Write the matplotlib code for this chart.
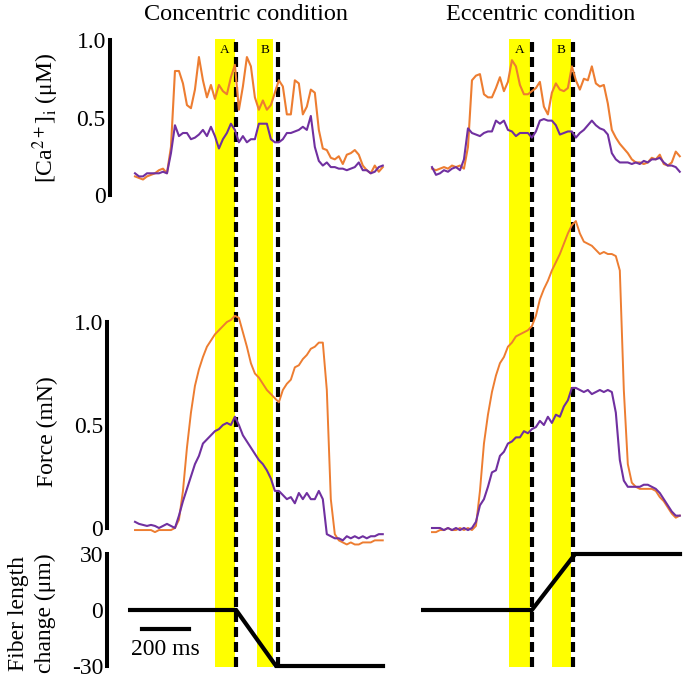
import numpy as np
import matplotlib
matplotlib.use("Agg")
import matplotlib.pyplot as plt

plt.rcParams['font.family'] = ['Liberation Serif', 'DejaVu Serif']
plt.rcParams['mathtext.fontset'] = 'stix'

# sampled traces, one value every 17 ms
sample_ms = 17.0

ca_conc_orange = [0.12, 0.11, 0.10, 0.12, 0.13, 0.14, 0.16, 0.17, 0.14, 0.31,
                  0.80, 0.80, 0.72, 0.58, 0.56, 0.68, 0.89, 0.74, 0.63, 0.71,
                  0.62, 0.71, 0.67, 0.65, 0.76, 0.84, 0.55, 0.70, 0.89, 0.83,
                  0.63, 0.55, 0.61, 0.55, 0.58, 0.66, 0.74, 0.70, 0.52, 0.52,
                  0.74, 0.72, 0.52, 0.57, 0.68, 0.66, 0.42, 0.30, 0.29, 0.24,
                  0.23, 0.25, 0.20, 0.26, 0.27, 0.29, 0.26, 0.19, 0.16, 0.14,
                  0.19, 0.15, 0.18]
ca_conc_purple = [0.14, 0.12, 0.12, 0.14, 0.14, 0.14, 0.14, 0.15, 0.14, 0.27,
                  0.45, 0.38, 0.40, 0.40, 0.36, 0.37, 0.39, 0.42, 0.38, 0.44,
                  0.38, 0.30, 0.36, 0.40, 0.46, 0.42, 0.34, 0.38, 0.34, 0.36,
                  0.36, 0.46, 0.46, 0.46, 0.36, 0.34, 0.34, 0.36, 0.40, 0.40,
                  0.41, 0.42, 0.44, 0.42, 0.51, 0.31, 0.22, 0.19, 0.21, 0.18,
                  0.18, 0.17, 0.17, 0.16, 0.17, 0.18, 0.21, 0.16, 0.16, 0.14,
                  0.15, 0.18, 0.19]
ca_ecc_orange = [0.17, 0.16, 0.17, 0.18, 0.17, 0.19, 0.18, 0.19, 0.17, 0.31,
                 0.74, 0.77, 0.78, 0.65, 0.63, 0.63, 0.69, 0.76, 0.67, 0.73,
                 0.87, 0.83, 0.71, 0.65, 0.65, 0.67, 0.69, 0.73, 0.57, 0.52,
                 0.66, 0.72, 0.68, 0.67, 0.69, 0.83, 0.74, 0.68, 0.75, 0.74,
                 0.83, 0.72, 0.70, 0.71, 0.59, 0.42, 0.37, 0.33, 0.30, 0.27,
                 0.23, 0.21, 0.21, 0.20, 0.21, 0.24, 0.23, 0.26, 0.20, 0.19,
                 0.21, 0.28, 0.25]
ca_ecc_purple = [0.18, 0.13, 0.14, 0.16, 0.15, 0.17, 0.18, 0.16, 0.23, 0.43,
                 0.40, 0.39, 0.38, 0.40, 0.41, 0.41, 0.48, 0.46, 0.48, 0.42,
                 0.41, 0.38, 0.40, 0.40, 0.40, 0.37, 0.41, 0.48, 0.49, 0.48,
                 0.48, 0.45, 0.39, 0.40, 0.41, 0.41, 0.37, 0.40, 0.42, 0.45,
                 0.48, 0.45, 0.43, 0.42, 0.39, 0.27, 0.23, 0.21, 0.21, 0.21,
                 0.20, 0.21, 0.20, 0.22, 0.21, 0.23, 0.23, 0.24, 0.21, 0.19,
                 0.19, 0.18, 0.15]

force_conc_orange = [-0.01, -0.01, -0.01, -0.01, -0.01, -0.02, -0.01, -0.01, -0.01, -0.01,
                     0.00, 0.04, 0.18, 0.39, 0.56, 0.69, 0.77, 0.83, 0.88, 0.91,
                     0.94, 0.96, 0.98, 1.00, 1.01, 1.03, 1.02, 0.95, 0.88, 0.80,
                     0.75, 0.73, 0.70, 0.67, 0.65, 0.63, 0.61, 0.67, 0.70, 0.72,
                     0.78, 0.79, 0.82, 0.84, 0.87, 0.88, 0.90, 0.90, 0.67, 0.14,
                     -0.03, -0.06, -0.07, -0.08, -0.07, -0.08, -0.08, -0.07, -0.07, -0.07,
                     -0.06, -0.06, -0.06]
force_conc_purple = [0.03, 0.02, 0.015, 0.01, 0.015, 0.01, 0.00, 0.01, 0.02, 0.01,
                     0.00, 0.06, 0.13, 0.19, 0.25, 0.31, 0.35, 0.41, 0.43, 0.45,
                     0.47, 0.48, 0.50, 0.51, 0.50, 0.54, 0.50, 0.45, 0.42, 0.39,
                     0.36, 0.33, 0.31, 0.28, 0.24, 0.18, 0.18, 0.16, 0.14, 0.15,
                     0.12, 0.17, 0.14, 0.17, 0.14, 0.14, 0.18, 0.14, -0.03, -0.04,
                     -0.05, -0.05, -0.06, -0.04, -0.05, -0.04, -0.05, -0.04, -0.05, -0.04,
                     -0.04, -0.03, -0.03]
force_ecc_orange = [-0.02, -0.02, -0.01, -0.01, 0.00, -0.01, -0.01, 0.00, -0.01, 0.00,
                    -0.01, 0.01, 0.18, 0.41, 0.55, 0.66, 0.74, 0.80, 0.83, 0.88,
                    0.90, 0.93, 0.94, 0.95, 0.96, 0.98, 1.03, 1.11, 1.16, 1.20,
                    1.25, 1.29, 1.33, 1.38, 1.43, 1.47, 1.49, 1.43, 1.39, 1.38,
                    1.37, 1.35, 1.33, 1.34, 1.33, 1.33, 1.32, 1.25, 0.67, 0.31,
                    0.22, 0.20, 0.19, 0.19, 0.19, 0.19, 0.18, 0.15, 0.13, 0.10,
                    0.07, 0.05, 0.06]
force_ecc_purple = [0.00, 0.00, 0.00, -0.01, 0.00, -0.01, 0.00, -0.01, 0.00, -0.01,
                    0.00, 0.03, 0.11, 0.14, 0.20, 0.27, 0.28, 0.35, 0.37, 0.41,
                    0.42, 0.44, 0.44, 0.47, 0.46, 0.48, 0.49, 0.52, 0.50, 0.54,
                    0.51, 0.55, 0.54, 0.59, 0.62, 0.68, 0.68, 0.67, 0.66, 0.67,
                    0.65, 0.66, 0.67, 0.66, 0.67, 0.66, 0.56, 0.33, 0.23, 0.20,
                    0.20, 0.20, 0.20, 0.21, 0.21, 0.20, 0.19, 0.17, 0.14, 0.11,
                    0.08, 0.06, 0.06]

# fibre length command (ms, um)
len_conc_t = [-21, 430, 600, 1055]
len_conc = [0, 0, -30, -30]
len_ecc_t = [-38, 425, 609, 1055]
len_ecc = [0, 0, 30, 30]

# analysis windows (ms) and the dashed markers
windows_conc = [(340, 425), (519, 587)]
windows_ecc = [(328, 417), (511, 591)]
marks_conc = [430, 608]
marks_ecc = [425, 600]
window_names = ['A', 'B']

ca_ticks = [0, 0.5, 1.0]
ca_ticklabels = ['0', '0.5', '1.0']
force_ticks = [0, 0.5, 1.0]
force_ticklabels = ['0', '0.5', '1.0']
len_ticks = [-30, 0, 30]
len_ticklabels = ['-30', '0', '30']
scalebar_ms = (30, 230)

ORANGE = '#ED7D31'
PURPLE = '#7030A0'
YELLOW = '#FFFF00'
W, H = 685, 681

fig = plt.figure(figsize=(W / 100, H / 100), dpi=100)


def px_axes(left, right, top, bottom, zorder=1):
    ax = fig.add_axes([left / W, 1 - bottom / H, (right - left) / W, (bottom - top) / H])
    ax.set_zorder(zorder)
    ax.patch.set_visible(False)
    for s in ax.spines.values():
        s.set_visible(False)
    ax.set_xticks([])
    ax.set_yticks([])
    ax.set_xlim(0, 1055)
    return ax


def scale_axis(ax, ticks, labels, bounds, outward):
    sp = ax.spines['left']
    sp.set_visible(True)
    sp.set_position(('outward', outward))
    sp.set_bounds(*bounds)
    sp.set_linewidth(2.9)
    ax.set_yticks(ticks)
    ax.set_yticklabels(labels)
    ax.tick_params(axis='y', length=0, pad=3, labelsize=17)


columns = [
    (135, 383, ca_conc_orange, ca_conc_purple, force_conc_orange, force_conc_purple,
     len_conc_t, len_conc, windows_conc, marks_conc, 'Concentric condition', 246),
    (432, 680, ca_ecc_orange, ca_ecc_purple, force_ecc_orange, force_ecc_purple,
     len_ecc_t, len_ecc, windows_ecc, marks_ecc, 'Eccentric condition', 541),
]

for ci, (x0, x1, ca_o, ca_p, f_o, f_p, lt, lv, wins, marks, title, tx) in enumerate(columns):
    t = np.arange(len(ca_o)) * sample_ms

    # shaded windows + dashed markers behind the traces
    ov = px_axes(x0, x1, 39, 667, zorder=0)
    ov.set_ylim(0, 1)
    for (a, b), name in zip(wins, window_names):
        ov.axvspan(a, b, color=YELLOW, lw=0)
        ov.text((a + b) / 2, 0.983, name, ha='center', va='center', fontsize=9.5)
    for m in marks:
        ov.axvline(m, color='black', lw=3, dashes=(2.4, 1.2))

    ax_ca = px_axes(x0, x1, 40, 195)
    ax_ca.set_ylim(0, 1)
    ax_ca.plot(t, ca_o, color=ORANGE, lw=1.5, clip_on=False)
    ax_ca.plot(t, ca_p, color=PURPLE, lw=1.5, clip_on=False)

    ax_f = px_axes(x0, x1, 322, 528)
    ax_f.set_ylim(0, 1)
    ax_f.plot(t, f_o, color=ORANGE, lw=1.4, clip_on=False)
    ax_f.plot(t, f_p, color=PURPLE, lw=1.5, clip_on=False)

    ax_l = px_axes(x0, x1, 554, 666)
    ax_l.set_ylim(-30, 30)
    ax_l.plot(lt, lv, color='black', lw=3, clip_on=False, solid_joinstyle='miter')

    fig.text(tx / W, 1 - 14 / H, title, ha='center', va='center', fontsize=17.5)

    if ci == 0:
        scale_axis(ax_ca, ca_ticks, ca_ticklabels, (0, 1), 18)
        scale_axis(ax_f, force_ticks, force_ticklabels, (0, 1), 20)
        scale_axis(ax_l, len_ticks, len_ticklabels, (-30, 30), 20)
        ax_ca.text(-0.359, 0.5, r'[Ca$^{2+}$]$_{\rm i}$ (μM)', transform=ax_ca.transAxes,
                   rotation=90, ha='center', va='center', fontsize=17)
        ax_f.text(-0.355, 0.466, 'Force (mN)', transform=ax_f.transAxes,
                  rotation=90, ha='center', va='center', fontsize=17)
        ax_l.text(-0.415, 0.47, 'Fiber length\nchange (μm)', transform=ax_l.transAxes,
                  rotation=90, ha='center', va='center', fontsize=17, linespacing=1.35)
        ax_l.plot(scalebar_ms, [-10, -10], color='black', lw=3, clip_on=False)
        ax_l.text(sum(scalebar_ms) / 2, -21, '200 ms', ha='center', va='center', fontsize=17)

fig.savefig('out.png', dpi=100)
